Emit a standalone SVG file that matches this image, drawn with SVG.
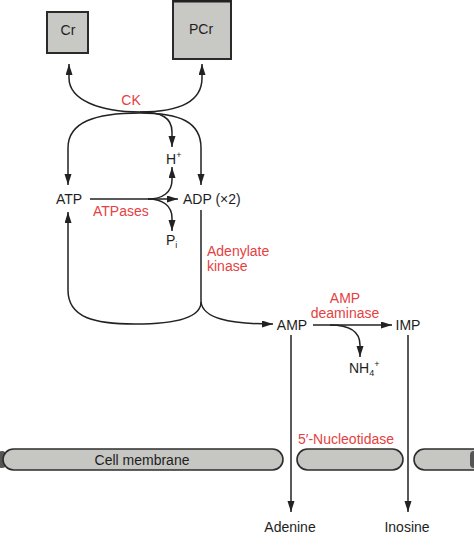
<svg xmlns="http://www.w3.org/2000/svg" width="474" height="557" viewBox="0 0 474 557">
<style>
text{font-family:"Liberation Sans",Arial,sans-serif;font-size:14px;fill:#1e1e1e}
.r{fill:#e5413f}
.box{fill:#c8c8c4;stroke:#2a2a2a;stroke-width:2}
.mem{fill:#c6c6c2;stroke:#2e2e2e;stroke-width:1.6}
.ln{fill:none;stroke:#222;stroke-width:1.5}
.a{marker-end:url(#ah)}
</style>
<defs>
<marker id="ah" markerUnits="userSpaceOnUse" markerWidth="12" markerHeight="8" refX="11" refY="3.5" orient="auto">
<path d="M0,0 L11,3.5 L0,7 z" fill="#222"/>
</marker>
</defs>
<rect width="474" height="557" fill="#fff"/>
<g id="cr"><rect class="box" x="47" y="12" width="41" height="41"/><text x="68" y="35" text-anchor="middle">Cr</text></g>
<g id="pcr"><rect class="box" x="173" y="-2" width="58" height="61"/><line x1="173" y1="1" x2="231" y2="1" stroke="#222" stroke-width="3"/><text x="201" y="34" text-anchor="middle">PCr</text></g>
<g id="ck"><text class="r" x="131" y="105" text-anchor="middle">CK</text></g>
<g id="atp"><text x="69" y="204" text-anchor="middle">ATP</text></g>
<g id="adp"><text x="183" y="204">ADP (×2)</text></g>
<g id="atpases"><text class="r" x="93" y="216">ATPases</text></g>
<g id="hplus"><text x="166" y="164">H<tspan font-size="9" dy="-6">+</tspan></text></g>
<g id="pi"><text x="166" y="245">P<tspan font-size="9" dy="3">i</tspan></text></g>
<g id="adenylate"><text class="r" x="207" y="256">Adenylate</text><text class="r" x="207" y="271">kinase</text></g>
<g id="amp"><text x="292" y="330" text-anchor="middle">AMP</text></g>
<g id="imp"><text x="408" y="330" text-anchor="middle">IMP</text></g>
<g id="ampdeam"><text class="r" x="345" y="303" text-anchor="middle">AMP</text><text class="r" x="345" y="318" text-anchor="middle">deaminase</text></g>
<g id="nh4"><text x="349" y="373">NH<tspan font-size="9" dy="3">4</tspan><tspan font-size="9" dy="-9">+</tspan></text></g>
<g id="membrane">
<rect x="-2" y="451" width="8" height="17" rx="4" fill="#555"/>
<rect class="mem" x="3" y="449" width="280" height="21" rx="10.5"/>
<text x="142" y="465" text-anchor="middle">Cell membrane</text>
<rect class="mem" x="297" y="449" width="106" height="21" rx="10.5"/>
<rect class="mem" x="414" y="449" width="70" height="21" rx="10.5"/>
<rect x="470" y="451" width="8" height="17" rx="4" fill="#555"/>
</g>
<g id="nucleotidase"><text class="r" x="298" y="444">5′-Nucleotidase</text></g>
<g id="adenine"><text x="290" y="532" text-anchor="middle">Adenine</text></g>
<g id="inosine"><text x="407" y="532" text-anchor="middle">Inosine</text></g>
<g id="connectors">
<path class="ln a" d="M140,112 C100,112 69,100 69,78 L69,64"/>
<path class="ln a" d="M140,112 C182,112 202,100 202,78 L202,64"/>
<path class="ln a" d="M140,113 C95,113 68,122 68,148 L68,185"/>
<path class="ln a" d="M140,113 C180,113 201,122 201,148 L201,185"/>
<path class="ln a" d="M140,112 C162,112 172,118 172,132 L172,147"/>
<path class="ln a" d="M90,199 L178,199"/>
<path class="ln a" d="M148,199 C163,199 172,192 172,180 L172,167"/>
<path class="ln a" d="M148,199 C163,199 172,206 172,218 L172,231"/>
<path class="ln" d="M201,210 L201,302"/>
<path class="ln a" d="M201,302 C201,318 175,324 135,324 C95,324 68,318 68,290 L68,212"/>
<path class="ln a" d="M201,302 C203,318 228,324 273,324"/>
<path class="ln a" d="M313,325 L392,325"/>
<path class="ln a" d="M330,325 C350,325 360,332 360,345 L360,357"/>
<path class="ln a" d="M291,335 L291,512"/>
<path class="ln a" d="M408,335 L408,512"/>
</g>
</svg>
